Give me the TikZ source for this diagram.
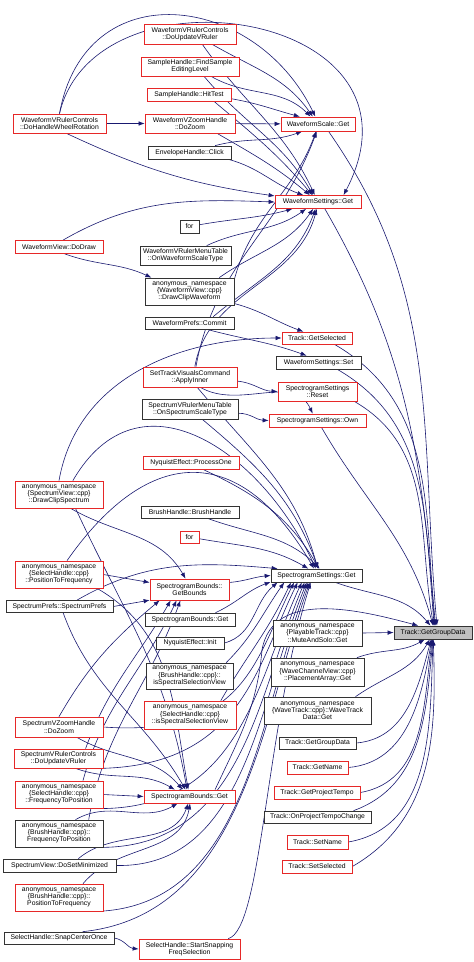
\documentclass[tikz,border=0pt]{standalone}
\usepackage{fontspec}
\newfontfamily\doxfont{Liberation Sans}
\usetikzlibrary{arrows.meta,backgrounds}
\definecolor{edgeblue}{HTML}{191970}
\definecolor{boxred}{HTML}{E62828}
\definecolor{boxgray}{HTML}{BFBFBF}
\begin{document}
\begin{tikzpicture}[x=1pt,y=-1pt]
\tikzstyle{fn}=[draw,fill=white,line width=0.7pt,inner sep=0pt,align=center,font=\doxfont\fontsize{6.8}{7.3}\selectfont]
\tikzstyle{redfn}=[fn,draw=boxred]
\tikzstyle{blackfn}=[fn,draw=black!80]
\tikzstyle{rootfn}=[fn,draw=black!80,fill=boxgray]
\tikzstyle{call}=[draw,edgeblue,line width=0.6pt,-{Latex[length=6pt,width=4.5pt]}]
\useasboundingbox (0,0) rectangle (474,962);
% left column
\node[redfn,minimum width=93,minimum height=19](whr)at(59.5,123.5){WaveformVRulerControls\\::DoHandleWheelRotation};
\node[redfn,minimum width=88,minimum height=13](wdd)at(59,247){WaveformView::DoDraw};
\node[redfn,minimum width=88,minimum height=27](dcs)at(59,494.5){anonymous\_namespace\\\{SpectrumView::cpp\}\\::DrawClipSpectrum};
\node[redfn,minimum width=88,minimum height=27](sptf)at(59,574.5){anonymous\_namespace\\\{SelectHandle::cpp\}\\::PositionToFrequency};
\node[blackfn,minimum width=107,minimum height=12](spp)at(59.5,606.5){SpectrumPrefs::SpectrumPrefs};
\node[redfn,minimum width=88,minimum height=20](svz)at(59,727){SpectrumVZoomHandle\\::DoZoom};
\node[redfn,minimum width=89,minimum height=19](svr)at(58.5,758.5){SpectrumVRulerControls\\::DoUpdateVRuler};
\node[redfn,minimum width=88,minimum height=27](sftp)at(59,794.5){anonymous\_namespace\\\{SelectHandle::cpp\}\\::FrequencyToPosition};
\node[blackfn,minimum width=88,minimum height=27](bftp)at(59,833.5){anonymous\_namespace\\\{BrushHandle::cpp\}::\\FrequencyToPosition};
\node[blackfn,minimum width=113,minimum height=13](sdm)at(59.5,865.5){SpectrumView::DoSetMinimized};
\node[redfn,minimum width=88,minimum height=27](bptf)at(59,897.5){anonymous\_namespace\\\{BrushHandle::cpp\}::\\PositionToFrequency};
\node[blackfn,minimum width=110,minimum height=12](sco)at(59,938){SelectHandle::SnapCenterOnce};
% middle column
\node[redfn,minimum width=92,minimum height=20](wdv)at(190,34){WaveformVRulerControls\\::DoUpdateVRuler};
\node[redfn,minimum width=98,minimum height=19](fsel)at(190,66.5){SampleHandle::FindSample\\EditingLevel};
\node[redfn,minimum width=84,minimum height=13](hit)at(189,95){SampleHandle::HitTest};
\node[redfn,minimum width=90,minimum height=19](wzoom)at(190,123.5){WaveformVZoomHandle\\::DoZoom};
\node[blackfn,minimum width=83,minimum height=13](env)at(189.5,152.5){EnvelopeHandle::Click};
\node[blackfn,minimum width=19,minimum height=13](forw)at(189.5,226.5){for};
\node[blackfn,minimum width=91,minimum height=19](wmt)at(185.5,255.5){WaveformVRulerMenuTable\\::OnWaveformScaleType};
\node[blackfn,minimum width=89,minimum height=27](dcw)at(189.5,291.5){anonymous\_namespace\\\{WaveformView::cpp\}\\::DrawClipWaveform};
\node[blackfn,minimum width=89,minimum height=12](wpc)at(189.5,323){WaveformPrefs::Commit};
\node[redfn,minimum width=94,minimum height=20](sai)at(190,377){SetTrackVisualsCommand\\::ApplyInner};
\node[blackfn,minimum width=96,minimum height=20](sst)at(190,409){SpectrumVRulerMenuTable\\::OnSpectrumScaleType};
\node[redfn,minimum width=96,minimum height=13](npo)at(191,462.5){NyquistEffect::ProcessOne};
\node[blackfn,minimum width=98,minimum height=12](bbh)at(190,512){BrushHandle::BrushHandle};
\node[redfn,minimum width=19,minimum height=12](forr)at(189.5,537){for};
\node[redfn,minimum width=79,minimum height=21](sbgb)at(189.5,589.5){SpectrogramBounds::\\GetBounds};
\node[blackfn,minimum width=90,minimum height=13](sbgk)at(190,619.5){SpectrogramBounds::Get};
\node[blackfn,minimum width=68,minimum height=12](nyi)at(190,643){NyquistEffect::Init};
\node[blackfn,minimum width=87,minimum height=26](bsv)at(189.5,676){anonymous\_namespace\\\{BrushHandle::cpp\}::\\isSpectralSelectionView};
\node[redfn,minimum width=92,minimum height=28](ssv)at(190,715){anonymous\_namespace\\\{SelectHandle::cpp\}\\::isSpectralSelectionView};
\node[redfn,minimum width=91,minimum height=13](sbg)at(189.5,796.5){SpectrogramBounds::Get};
\node[redfn,minimum width=101,minimum height=20](ssfs)at(189.5,949){SelectHandle::StartSnapping\\FreqSelection};
% right column
\node[redfn,minimum width=74,minimum height=14](wsg)at(318,124){WaveformScale::Get};
\node[redfn,minimum width=86,minimum height=13](wsetg)at(318,202){WaveformSettings::Get};
\node[redfn,minimum width=70,minimum height=12](tgs)at(317,338){Track::GetSelected};
\node[blackfn,minimum width=85,minimum height=13](wss)at(318.5,362.5){WaveformSettings::Set};
\node[redfn,minimum width=79,minimum height=19](ssr)at(317.5,391.5){SpectrogramSettings\\::Reset};
\node[redfn,minimum width=97,minimum height=13](sso)at(317.5,420.5){SpectrogramSettings::Own};
\node[blackfn,minimum width=91,minimum height=13](ssg)at(316.5,575.5){SpectrogramSettings::Get};
\node[blackfn,minimum width=89,minimum height=26](mas)at(317.5,633){anonymous\_namespace\\\{PlayableTrack::cpp\}\\::MuteAndSolo::Get};
\node[blackfn,minimum width=93,minimum height=28](pag)at(317.5,672){anonymous\_namespace\\\{WaveChannelView::cpp\}\\::PlacementArray::Get};
\node[blackfn,minimum width=107,minimum height=27](wtd)at(317.5,710.5){anonymous\_namespace\\\{WaveTrack::cpp\}::WaveTrack\\Data::Get};
\node[blackfn,minimum width=77,minimum height=12](tgg)at(317.5,743){Track::GetGroupData};
\node[redfn,minimum width=61,minimum height=13](tgn)at(317.5,767.5){Track::GetName};
\node[redfn,minimum width=86,minimum height=13](tgp)at(317,792.5){Track::GetProjectTempo};
\node[blackfn,minimum width=107,minimum height=12](tpc)at(317.5,817){Track::OnProjectTempoChange};
\node[redfn,minimum width=61,minimum height=14](tsn)at(317.5,842){Track::SetName};
\node[redfn,minimum width=70,minimum height=13](tss)at(317,866.5){Track::SetSelected};
\node[rootfn,minimum width=78,minimum height=13](tgd)at(433,632.5){Track::GetGroupData};
\begin{scope}[on background layer]
% waveform callers
\path[call](whr)--(wzoom);
\path[call](whr.north)..controls(85,-28)and(255,-8)..(wsg.110);
\path[call](whr.north)..controls(95,-40)and(440,10)..(wsetg.15);
\path[call](whr.-55)to[out=-25,in=172](wsetg.172);
\path[call](wdv.-25)to[out=-30,in=125](wsg.125);
\path[call](wdv.-40)to[out=-55,in=115](wsetg.115);
\path[call](fsel.-25)to[out=-30,in=135](wsg.135);
\path[call](fsel.-35)to[out=-50,in=120](wsetg.125);
\path[call](hit.-5)to[out=-10,in=165](wsg.158);
\path[call](hit.-15)to[out=-40,in=130](wsetg.130);
\path[call](wzoom)--(wsg);
\path[call](wzoom.-20)to[out=-30,in=140](wsetg.140);
\path[call](env.15)to[out=15,in=200](wsg.205);
\path[call](env.-10)to[out=-15,in=160](wsetg.155);
\path[call](wdd.60)to[out=30,in=178](wsetg.west);
\path[call](forw)to[out=10,in=195](wsetg.195);
\path[call](wmt.25)to[out=25,in=-145](wsetg.-150);
\path[call](wdd.-50)to[out=-20,in=155](dcw.160);
\path[call](dcw.25)to[out=35,in=-125](wsetg.-125);
\path[call](dcw.15)to[out=75,in=-110](wsg.-105);
\path[call](wpc.15)to[out=40,in=-110](wsetg.-110);
\path[call](sai.65)to[out=80,in=-105](wsetg.-100);
\path[call](sai.60)to[out=80,in=-110](wsg.-100);
\path[call](dcw.-15)to[out=-15,in=160](tgs.155);
\path[call](dcs.north)to[out=80,in=180](tgs.west);
\path[call](wpc.-20)to[out=-15,in=160](wss.150);
\path[call](sai.-5)to[out=-5,in=178](ssr.west);
\path[call](sai.-45)to[out=-30,in=115](sso.125);
\path[call](sst.-5)to[out=0,in=178](sso.west);
% spectrogram callers
\path[call](sai.-55)to[out=-50,in=105](ssg.80);
\path[call](sst.-40)to[out=-40,in=110](ssg.75);
\path[call](npo.-30)to[out=-25,in=120](ssg.70);
\path[call](dcs.45)to[out=60,in=115,looseness=1.3](ssg.95);
\path[call](bbh.-20)to[out=-20,in=135](ssg.65);
\path[call](forr)to[out=-10,in=150](ssg.140);
\path[call](sptf.60)to[out=55,in=120,looseness=1.5](ssg.110);
\path[call](spp.20)to[out=30,in=175](ssg.170);
\path[call](sptf.east)--(sbgb.170);
\path[call](spp.east)to[out=10,in=190](sbgb.195);
\path[call](dcs.-50)to[out=-30,in=120](sbgb.110);
\path[call](sbgb.10)to[out=5,in=185](ssg.west);
\path[call](sbgk.15)to[out=25,in=-160](ssg.-172);
\path[call](nyi.east)to[out=15,in=-140](ssg.-170);
\path[call](bsv.20)to[out=45,in=-125](ssg.-168);
\path[call](ssv.25)to[out=60,in=-115](ssg.-165);
\path[call](svz.east)..controls(245,737)and(255,660)..(ssg.-163);
\path[call](svr.-20)..controls(240,772)and(255,670)..(ssg.-160);
\path[call](sftp.-25)..controls(242,815)and(256,680)..(ssg.-155);
\path[call](bftp.-20)..controls(244,850)and(258,690)..(ssg.-150);
\path[call](sdm.east)..controls(246,868)and(259,700)..(ssg.-145);
\path[call](bptf.-20)..controls(248,906)and(260,710)..(ssg.-140);
\path[call](sco.15)..controls(242,915)and(262,720)..(ssg.-135);
\path[call](ssfs.15)..controls(262,930)and(265,730)..(ssg.-130);
\path[call](svz.north)to[out=60,in=-140](sbgb.200);
\path[call](svr.20)to[out=70,in=-120](sbgb.-150);
\path[call](sftp.30)to[out=75,in=-115](sbgb.-140);
\path[call](bftp.25)to[out=80,in=-110](sbgb.-130);
\path[call](dcs.-40)to[out=-65,in=100](sbg.110);
\path[call](spp.-60)to[out=-70,in=120](sbg.120);
\path[call](sptf.-20)to[out=-30,in=100](sbg.100);
\path[call](svz.-30)to[out=-30,in=130](sbg.135);
\path[call](svr.-30)to[out=-20,in=150](sbg.155);
\path[call](sftp.east)--(sbg.west);
\path[call](bftp.40)to[out=30,in=-150](sbg.-150);
\path[call](sdm.20)to[out=40,in=-110](sbg.-100);
\path[call](bptf.30)to[out=50,in=-100](sbg.-85);
\path[call](sco.east)to[out=-10,in=175](ssfs.west);
% into the root
\path[call](wsg.-35)to[out=-55,in=95](tgd.60);
\path[call](wsetg.-45)to[out=-60,in=95](tgd.70);
\path[call](tgs.-20)to[out=-30,in=95](tgd.75);
\path[call](wss.-20)to[out=-30,in=95](tgd.80);
\path[call](ssr.-15)to[out=-30,in=100](tgd.85);
\path[call](sso.-60)to[out=-60,in=105](tgd.90);
\path[call](ssg.-20)to[out=-20,in=130](tgd.110);
\path[call](sbg.15)to[out=65,in=-95](262,650)to[out=80,in=165](tgd.155);
\path[call](mas.east)--(tgd.west);
\path[call](pag.20)to[out=20,in=-150](tgd.-140);
\path[call](wtd.20)to[out=35,in=-120](tgd.-115);
\path[call](tgg.east)to[out=5,in=-105](tgd.-105);
\path[call](tgn.east)to[out=5,in=-100](tgd.-100);
\path[call](tgp.east)to[out=10,in=-98](tgd.-95);
\path[call](tpc.10)to[out=20,in=-95](tgd.-92);
\path[call](tsn.east)to[out=10,in=-92](tgd.-90);
\path[call](tss.east)to[out=30,in=-88](tgd.-88);
\end{scope}
\end{tikzpicture}
\end{document}
